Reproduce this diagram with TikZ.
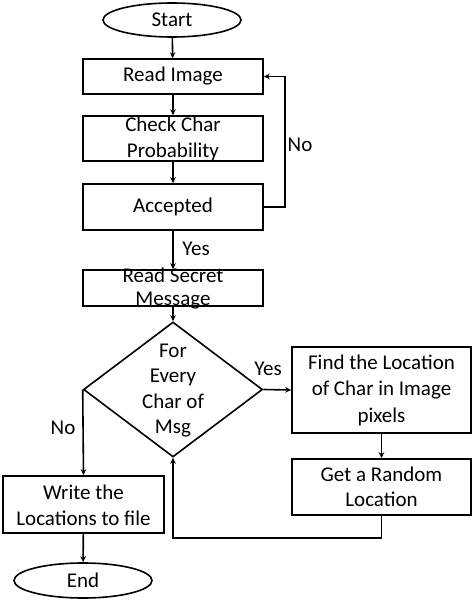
\documentclass[tikz,border=0pt]{standalone}
\usepackage{fontspec}
\setmainfont{Carlito}
\usetikzlibrary{shapes.geometric,arrows.meta}
\begin{document}
\begin{tikzpicture}[x=1pt,y=-1pt,
  every node/.style={font=\fontsize{21}{25.5}\selectfont},
  box/.style={draw,line width=1.6pt,rectangle,inner sep=0pt},
  txt/.style={align=center,inner sep=0pt},
  oval/.style={draw,line width=1.6pt,ellipse,inner sep=0pt},
  arr/.style={line width=1.6pt,-{Stealth[length=6pt,width=5.5pt]}},
  lab/.style={inner sep=0pt}]
\useasboundingbox (0,0) rectangle (474,607);
% nodes
\node[oval,minimum width=138pt,minimum height=34pt] (start) at (172,20) {Start};
\node[box,minimum width=180pt,minimum height=35pt] (read) at (173,76.5) {Read Image};
\node[box,minimum width=180pt,minimum height=45pt] (check) at (173,138.5) {};
\node[txt] (checktxt) at (173,139) {Check Char\\Probability};
\node[box,minimum width=180pt,minimum height=46pt] (acc) at (173,207) {Accepted};
\node[box,minimum width=180pt,minimum height=36pt] (msg) at (173,288) {};
\node[txt,font=\fontsize{21}{23}\selectfont] (msgtxt) at (173,288.5) {Read Secret\\Message};
\node[draw,line width=1.6pt,diamond,inner sep=0pt,minimum width=179pt,minimum height=135pt] (dec) at (173,389.5) {};
\node[txt] (dectxt) at (173,390.5) {For\\Every\\Char of\\Msg};
\node[box,minimum width=179pt,minimum height=86pt] (find) at (381.5,390) {};
\node[txt,font=\fontsize{21}{26.5}\selectfont] (findtxt) at (381.5,390) {Find the Location\\of Char in Image\\pixels};
\node[box,minimum width=179pt,minimum height=56pt] (get) at (381.5,487) {};
\node[txt] (gettxt) at (381.5,487) {Get a Random\\Location};
\node[box,minimum width=161pt,minimum height=57pt] (write) at (83.5,504.5) {};
\node[txt] (writetxt) at (83.5,505.5) {Write the\\Locations to file};
\node[oval,minimum width=138pt,minimum height=35pt] (end) at (83,580.5) {End};
% connectors
\draw[arr] (start) -- (read);
\draw[arr] (read) -- (check);
\draw[arr] (check) -- (acc);
\draw[arr] (acc.east) -- ++(21,0) coordinate (loopc) |- (read.east);
\node[lab] (no1) at (300,145) {No};
\draw[arr] (acc) -- (msg);
\node[lab] (yes1) at (196,249) {Yes};
\draw[arr] (msg) -- (dec);
\draw[arr] (dec.east) -- (find.west);
\node[lab] (yes2) at (268,369) {Yes};
\draw[arr] (find) -- (get);
\draw[arr] (get.south) -- ++(0,22) coordinate (backc) -| (dec.south);
\draw[arr] (dec.west) -- (write.north);
\node[lab] (no2) at (63,428) {No};
\draw[arr] (write) -- (end);
\end{tikzpicture}
\end{document}
